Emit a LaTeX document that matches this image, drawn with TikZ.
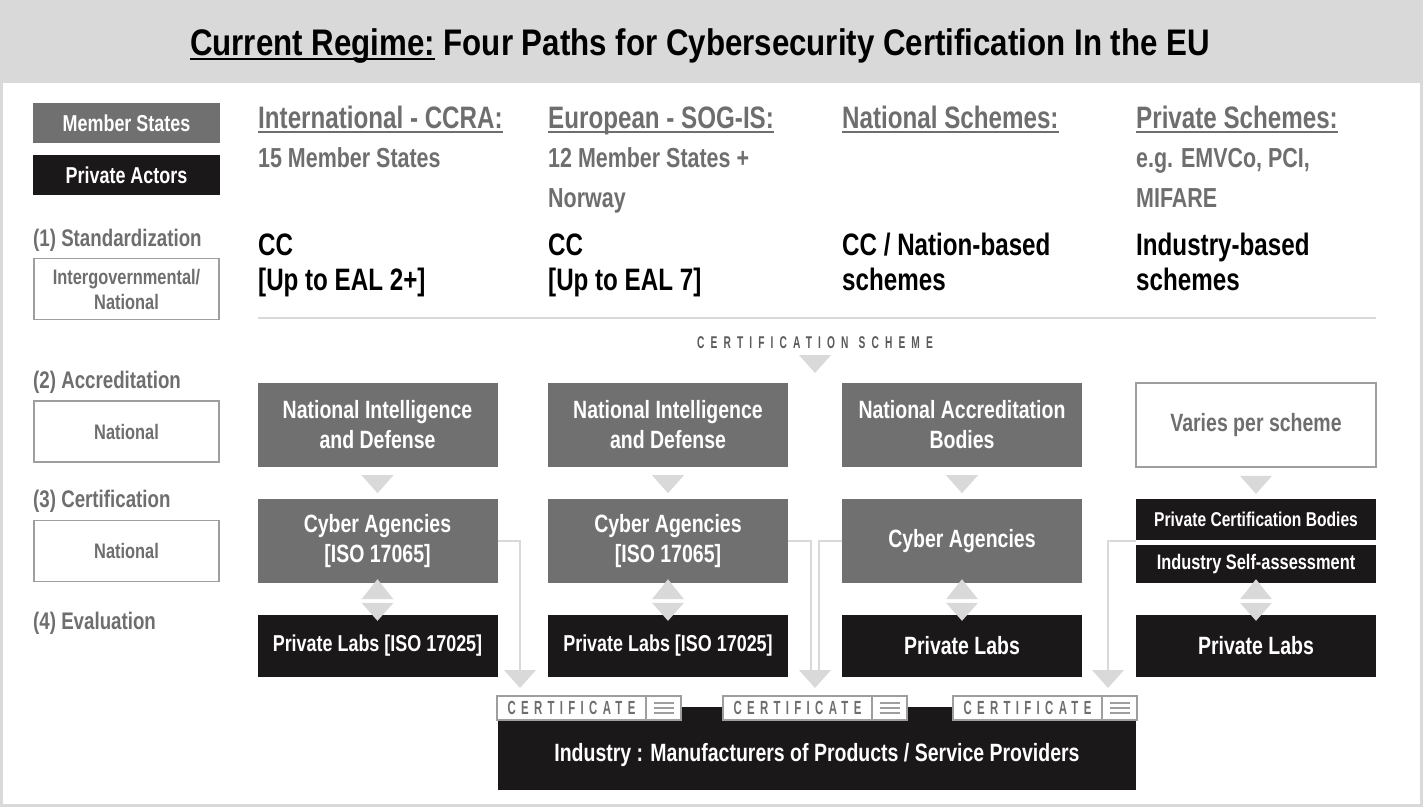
\documentclass[tikz,border=0pt]{standalone}
\usepackage{fontspec}
\setmainfont[FakeStretch=0.78,UprightFont=* Bold]{Liberation Sans}
\newfontfamily\titlefont[FakeStretch=0.845]{Liberation Sans}
\newfontfamily\spacedfont[FakeStretch=0.6,LetterSpace=28]{Liberation Sans}
\newfontfamily\schemefont[FakeStretch=0.6,LetterSpace=36]{Liberation Sans}
\usetikzlibrary{positioning}

\definecolor{msgray}{HTML}{707070}
\definecolor{pablack}{HTML}{1B1819}
\definecolor{lightg}{HTML}{D9D9D9}
\definecolor{edgegray}{HTML}{9E9E9E}
\definecolor{txtgray}{HTML}{6E6E6E}
\definecolor{capgray}{HTML}{5A5A5A}

% underlined header text
\newcommand\hdr[1]{\setbox0\hbox{#1}\rlap{\rule[-5pt]{\wd0}{1.6pt}}\box0{}}
% light gray arrow heads
\newcommand\tridown[2]{\fill[lightg] ([yshift=#2]#1) -- ++(-16,-18) -- ++(32,0) -- cycle;}
\newcommand\triup[2]{\fill[lightg] ([yshift=#2]#1) -- ++(-16,20) -- ++(32,0) -- cycle;}

\tikzset{
  every node/.style={inner sep=0pt},
  msbox/.style={fill=msgray, text=white, minimum width=240pt, minimum height=84pt,
                align=center, font=\fontsize{25}{30}\selectfont},
  pabox/.style={msbox, fill=pablack},
  lvlbox/.style={draw=edgegray, line width=1.8pt, fill=white, text=txtgray, align=center,
                 minimum width=185pt, minimum height=61pt, font=\fontsize{21}{25}\selectfont},
  lvltext/.style={text=txtgray, anchor=base west, font=\fontsize{24}{28}\selectfont},
  head/.style={text=txtgray, anchor=base west, font=\fontsize{31}{36}\selectfont},
  sub/.style={text=txtgray, anchor=base west, align=left, font=\fontsize{27.5}{40}\selectfont},
  std/.style={text=black, anchor=base west, align=left, font=\fontsize{31}{35}\selectfont},
  conn/.style={draw=lightg, line width=2.2pt},
  tag/.style={draw=edgegray, fill=white, line width=1.5pt, outer sep=0pt, minimum height=24pt,
              text=txtgray, font=\spacedfont\bfseries\fontsize{19}{19}\selectfont},
}

\begin{document}
\begin{tikzpicture}[x=1pt, y=-1pt]
\useasboundingbox (0,0) rectangle (1423,807);
\fill[lightg] (0,0) rectangle (1423,83);
\draw[lightg, line width=3pt] (1.5,1.5) rectangle (1421.5,805.5);

\node[anchor=base, font=\titlefont\bfseries\fontsize{37}{40}\selectfont] (title) at (700,55)
  {\hdr{Current Regime:} Four Paths for Cybersecurity Certification In the EU};

% legend and levels
\node[msbox, minimum width=187pt, minimum height=40pt, font=\fontsize{23}{26}\selectfont] (ms) at (126.5,123) {Member States};
\node[pabox, minimum width=187pt, minimum height=40pt, font=\fontsize{23}{26}\selectfont] (pa) at (126.5,175) {Private Actors};
\node[lvltext] (l1) at (33,246) {(1) Standardization};
\node[lvlbox] (n1) at (126.5,289) {Intergovernmental/\\National};
\node[lvltext] (l2) at (33,388) {(2) Accreditation};
\node[lvlbox] (n2) at (126.5,431.5) {National};
\node[lvltext] (l3) at (33,507) {(3) Certification};
\node[lvlbox] (n3) at (126.5,551) {National};
\node[lvltext] (l4) at (33,629) {(4) Evaluation};

% column headers
\node[head] (h1) at (258,128) {\hdr{International - CCRA:}};
\node[head] (h2) at (548,128) {\hdr{European - SOG-IS:}};
\node[head] (h3) at (842,128) {\hdr{National Schemes:}};
\node[head] (h4) at (1136,128) {\hdr{Private Schemes:}};
\node[sub] (s1) at (258,167) {15 Member States};
\node[sub] (s2) at (548,207) {12 Member States +\\Norway};
\node[sub] (s4) at (1136,207) {e.g. EMVCo, PCI,\\MIFARE};
\node[std] (c1) at (258,290) {CC\\{[}Up to EAL 2+{]}};
\node[std] (c2) at (548,290) {CC\\{[}Up to EAL 7{]}};
\node[std] (c3) at (842,290) {CC / Nation-based\\schemes};
\node[std] (c4) at (1136,290) {Industry-based\\schemes};
\draw[conn] (258,318) -- (1376,318);

\node[text=capgray, font=\schemefont\bfseries\fontsize{17}{17}\selectfont] (cs) at (815,343) {CERTIFICATION\hspace{10pt}SCHEME};
\coordinate (csarrow) at (815,373);
\tridown{csarrow}{0pt}

% accreditation
\node[msbox] (ni1) at (377.5,425) {National Intelligence\\and Defense};
\node[msbox] (ni2) at (668,425) {National Intelligence\\and Defense};
\node[msbox] (nab) at (962,425) {National Accreditation\\Bodies};
\node[lvlbox, minimum width=240pt, minimum height=84pt, font=\fontsize{25}{30}\selectfont] (var) at (1256,425) {Varies per scheme};

% certification
\node[msbox] (ca1) at (377.5,541) {Cyber Agencies\\{[}ISO 17065{]}};
\node[msbox] (ca2) at (668,541) {Cyber Agencies\\{[}ISO 17065{]}};
\node[msbox] (ca3) at (962,541) {Cyber Agencies};
\node[pabox, minimum height=41pt, font=\fontsize{20}{24}\selectfont] (pcb) at (1256,519.5) {Private Certification Bodies};
\node[pabox, minimum height=38pt, font=\fontsize{21}{24}\selectfont] (isa) at (1256,564) {Industry Self-assessment};

% evaluation
\node[pabox, minimum height=62pt, font=\fontsize{23}{28}\selectfont] (pl1) at (377.5,646) {Private Labs {[}ISO 17025{]}};
\node[pabox, minimum height=62pt, font=\fontsize{23}{28}\selectfont] (pl2) at (668,646) {Private Labs {[}ISO 17025{]}};
\node[pabox, minimum height=62pt] (pl3) at (962,646) {Private Labs};
\node[pabox, minimum height=62pt] (pl4) at (1256,646) {Private Labs};

\foreach \a in {ni1,ni2,nab,var} {\tridown{\a.south}{-26pt}}
\foreach \a/\b in {ca1/pl1,ca2/pl2,ca3/pl3,isa/pl4} {
  \triup{\a.south}{4pt}
  \tridown{\b.north}{-6pt}
}

% industry and certificates
\node[pabox, minimum width=638pt, minimum height=83pt, font=\fontsize{25}{28}\selectfont,
      text height=31pt, text depth=5pt] (ind) at (817,748.5) {Industry : Manufacturers of Products / Service Providers};
\coordinate (t1) at (520,688);
\coordinate (t2) at (815,688);
\coordinate (t3) at (1108,688);
\draw[conn] (ca1.east) -| ([yshift=14pt]t1);
\draw[conn] (ca2.east) -| ([xshift=-4pt,yshift=14pt]t2);
\draw[conn] (ca3.west) -| ([xshift=4pt,yshift=14pt]t2);
\draw[conn] ([yshift=-1pt]pcb.south west) -| ([yshift=14pt]t3);
\foreach \t in {t1,t2,t3} {\tridown{\t}{0pt}}

\foreach \x [count=\i] in {497,723,953} {
  \node[tag, minimum width=149pt, anchor=north west] (cert\i) at (\x,696) {CERTIFICATE};
  \node[tag, minimum width=35pt, anchor=west] (icon\i) at (cert\i.east) {};
  \foreach \d in {-5,0,5} \draw[edgegray, line width=1.3pt] ([xshift=-10pt,yshift=\d pt]icon\i.center) -- ++(20,0);
}
\end{tikzpicture}
\end{document}
